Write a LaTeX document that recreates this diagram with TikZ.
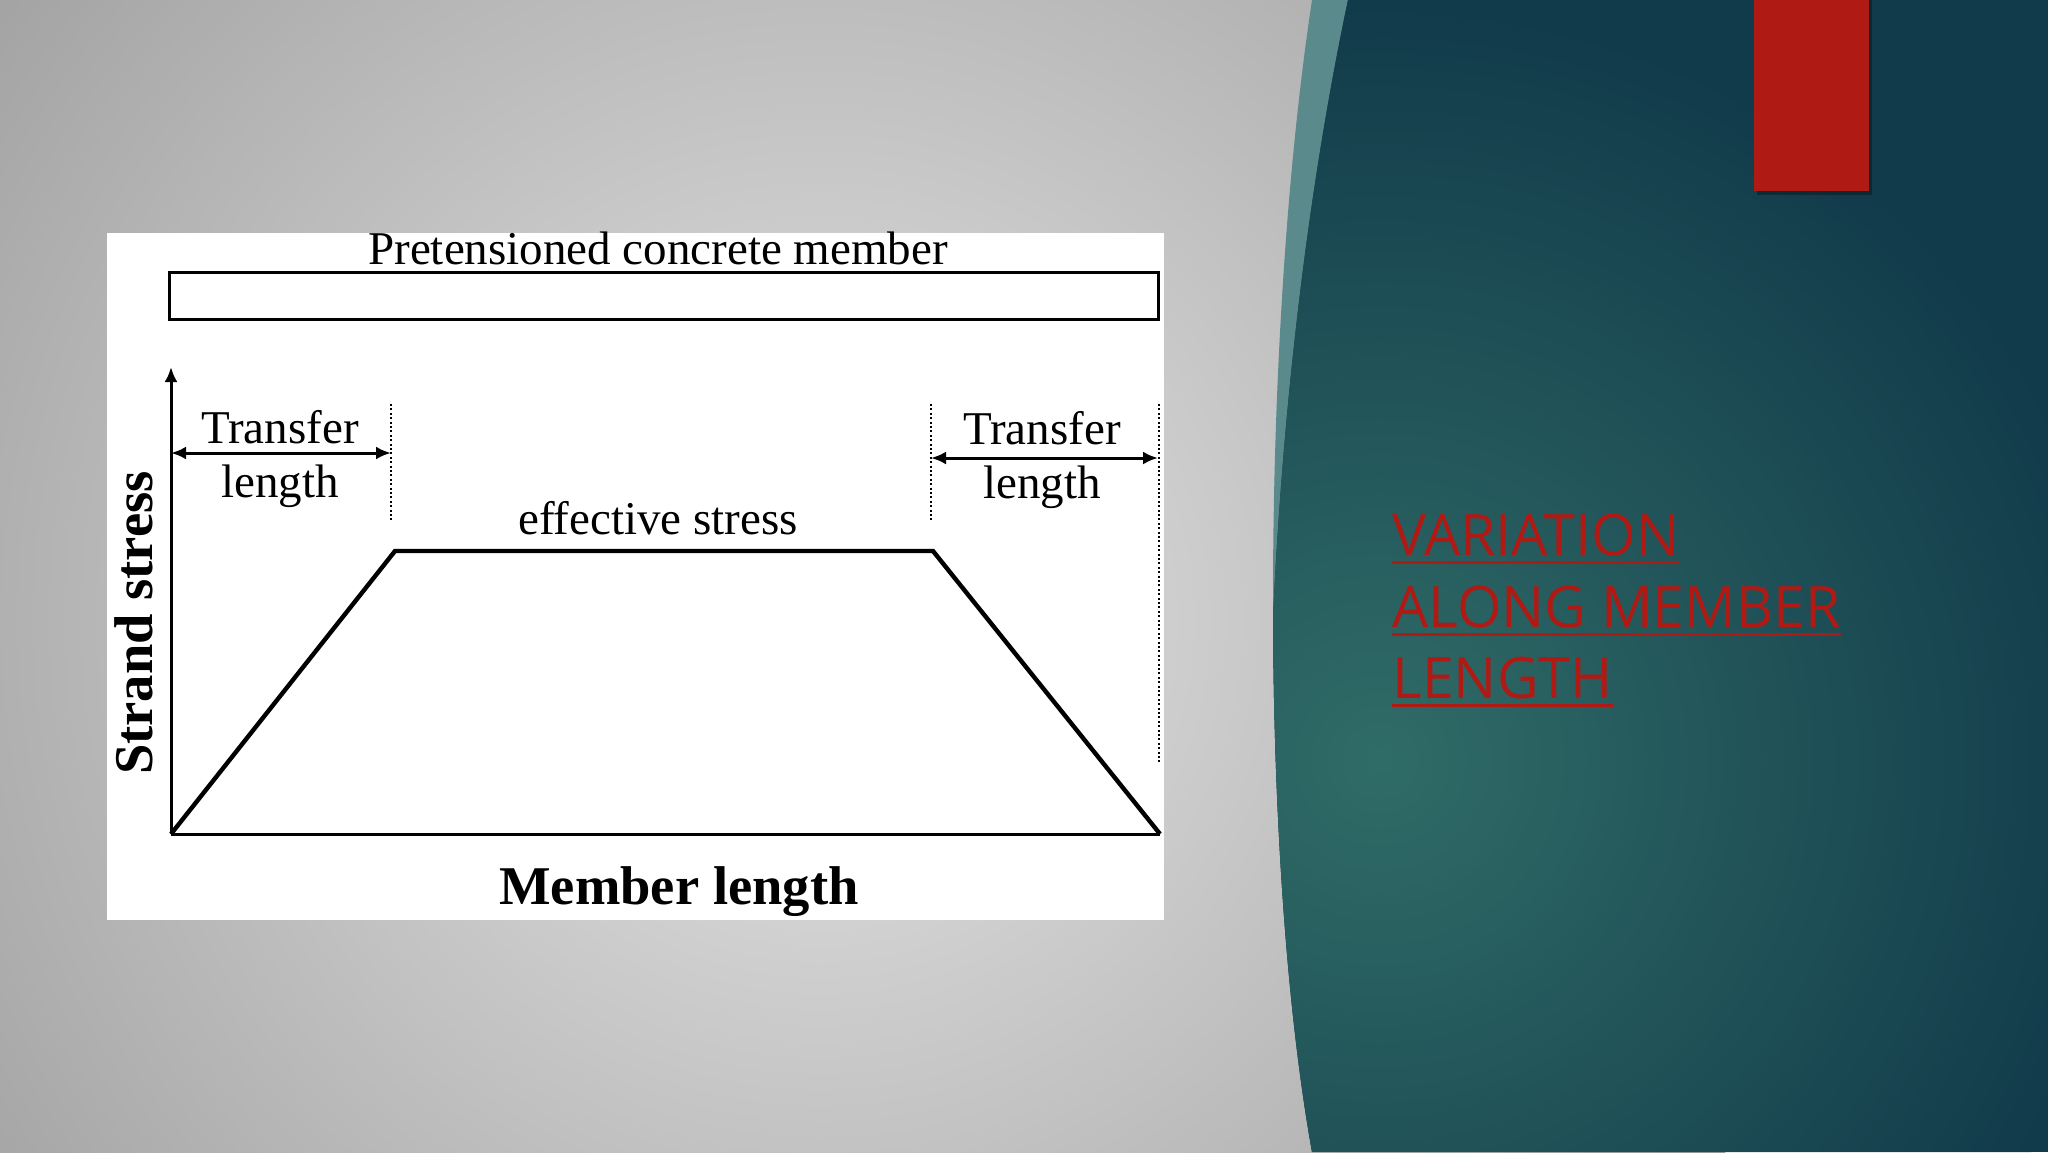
\documentclass[tikz,border=0pt]{standalone}
\usepackage{fontspec}
\setmainfont{Liberation Serif}
\newfontfamily\slidefont{Open Sans}
\usetikzlibrary{arrows.meta}

\definecolor{bgdark}{HTML}{A2A2A2}
\definecolor{bglight}{HTML}{E4E4E4}
\definecolor{tealdark}{HTML}{113A4A}
\definecolor{teallight}{HTML}{306C67}
\definecolor{stripe}{HTML}{5A8A8B}
\definecolor{slidered}{HTML}{B01A15}

\tikzset{
  lbl/.style={font=\fontsize{23.5}{28}\selectfont, inner sep=0pt, anchor=base},
  axlbl/.style={font=\fontsize{27.3}{32}\selectfont\bfseries, inner sep=0pt, anchor=base},
  ttl/.style={font=\slidefont\fontsize{28.6}{36}\selectfont, text=slidered, inner sep=0pt, anchor=base west},
  curve/.style={line width=2.2pt, line join=miter},
  axis/.style={line width=1.5pt},
  dimarr/.style={line width=1.5pt, {Latex[length=7.5pt,width=6.5pt]}-{Latex[length=7.5pt,width=6.5pt]}},
  guide/.style={line width=0.8pt, dash pattern=on 1pt off 1.2pt},
}

\begin{document}
\begin{tikzpicture}[x=0.5pt, y=-0.5pt]
  \useasboundingbox (0,0) rectangle (2048,1152);
  \begin{scope}
    \clip (0,0) rectangle (2048,1152);
    \fill[bgdark] (0,0) rectangle (2048,1152);
    \shade[inner color=bglight, outer color=bgdark] (820,620) circle (1050);
    \begin{scope}
      \clip (1312,0) .. controls (1262,330) and (1258,850) .. (1312,1152)
        -- (2048,1152) -- (2048,0) -- cycle;
      \fill[stripe] (1200,0) rectangle (2048,1152);
      \clip (1348,0) .. controls (1310,180) and (1282,400) .. (1272,640)
        -- (1230,700) -- (1230,1152) -- (2048,1152) -- (2048,0) -- cycle;
      \fill[tealdark] (1200,0) rectangle (2048,1152);
      \shade[inner color=teallight, outer color=tealdark] (1380,760) circle (760);
    \end{scope}
  \end{scope}

  \fill[black, opacity=0.3] (1757,0) rectangle (1872,195);
  \fill[slidered] (1754,0) rectangle (1869,191);

  \node[ttl] (ttlA) at (1392,555) {VARIATION};
  \node[ttl] (ttlB) at (1392,627) {ALONG MEMBER};
  \node[ttl] (ttlC) at (1392,698) {LENGTH};
  \foreach \t in {ttlA,ttlB,ttlC}
    \draw[slidered, line width=1.5pt] ([yshift=-3.5pt]\t.base west) -- ([yshift=-3.5pt]\t.base east);

  \fill[white] (107,233) rectangle (1164,920);

  \node[lbl] (pcm) at (658,264) {Pretensioned concrete member};
  \draw[axis] (169,272) rectangle (1158,319);

  \coordinate (o) at (171,834);
  \coordinate (ytop) at (171,367);
  \coordinate (xend) at (1160,834);
  \coordinate (tl) at (395,551);
  \coordinate (tr) at (933,551);
  \draw[axis, -{Latex[length=7.5pt,width=6.5pt]}] (o) -- (ytop);
  \draw[axis] (o) -- (xend);
  \draw[curve] (o) -- (tl) -- (tr) -- (xend);

  \coordinate (gL) at (391,404);
  \coordinate (gM) at (931,404);
  \coordinate (gR) at (1159,404);
  \draw[guide] (gL) -- ++(0,117);
  \draw[guide] (gM) -- ++(0,117);
  \draw[guide] (gR) -- ++(0,360);
  \draw[dimarr] (171,453) -- (391,453);
  \draw[dimarr] (931,458) -- (1158,458);

  \node[lbl] (trL) at (280,443) {Transfer};
  \node[lbl] (lenL) at (280,497) {length};
  \node[lbl] (trR) at (1042,444) {Transfer};
  \node[lbl] (lenR) at (1042,498) {length};
  \node[lbl] (eff) at (658,534) {effective stress};
  \node[axlbl] (xlab) at (679,904) {Member length};
  \node[axlbl, rotate=90] (ylab) at (152,623) {Strand stress};
\end{tikzpicture}
\end{document}
